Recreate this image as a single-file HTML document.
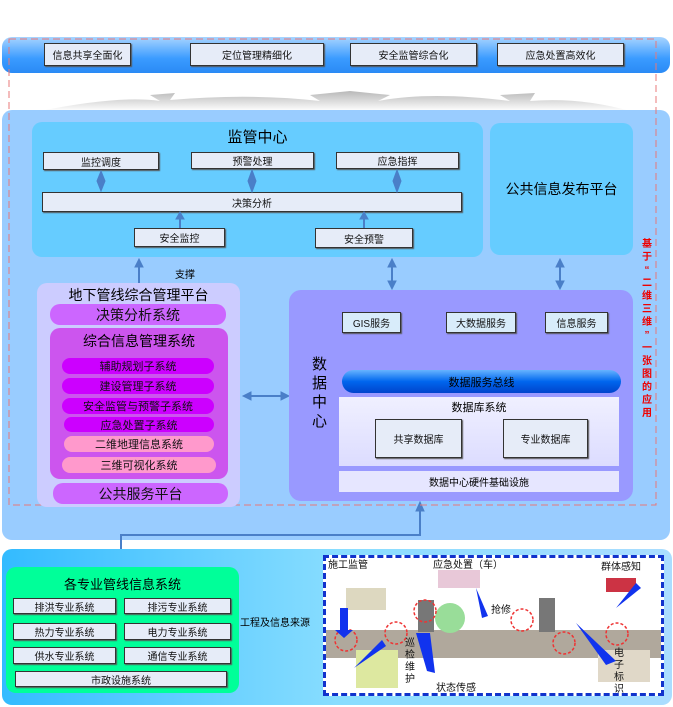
<!DOCTYPE html>
<html><head><meta charset="utf-8"><style>
*{margin:0;padding:0;box-sizing:border-box}
body{width:673px;height:707px;background:#fff;position:relative;overflow:hidden;font-family:"Liberation Sans","Noto Sans CJK SC",sans-serif}
.a{position:absolute}
.bx{position:absolute;background:#e6ecf8;border:1px solid #333;box-shadow:1px 1px 1px #555;font-size:10px;display:flex;align-items:center;justify-content:center;color:#111}
.pill{position:absolute;border-radius:9px;display:flex;align-items:center;justify-content:center;color:#111}
.c{display:flex;align-items:center;justify-content:center}
</style></head><body>
<!-- top bar -->
<div class="a" style="left:2px;top:37px;width:668px;height:36px;border-radius:10px;background:linear-gradient(#a8d4ff,#3a9bff 60%,#2a8af5)"></div>
<div class="bx" style="left:44px;top:43px;width:87px;height:23px">信息共享全面化</div>
<div class="bx" style="left:190px;top:43px;width:134px;height:23px">定位管理精细化</div>
<div class="bx" style="left:350px;top:43px;width:127px;height:23px">安全监管综合化</div>
<div class="bx" style="left:497px;top:43px;width:127px;height:23px">应急处置高效化</div>
<svg class="a" style="left:0;top:73px" width="673" height="40">
<defs><linearGradient id="g" x1="0" y1="0" x2="0" y2="1"><stop offset="0" stop-color="#b8b8b8"/><stop offset="1" stop-color="#fff"/></linearGradient></defs>
<path d="M40 38 Q120 22 160 28 L150 22 L175 20 L170 27 Q250 20 320 28 L310 22 L350 18 L390 22 L378 28 Q430 18 510 28 L500 22 L535 20 L530 28 Q580 24 630 38 Z" fill="url(#g)"/>
</svg>
<!-- main panel -->
<div class="a" style="left:2px;top:110px;width:668px;height:430px;border-radius:10px;background:#99ccff"></div>
<div class="a" style="left:32px;top:122px;width:451px;height:135px;border-radius:10px;background:#66ccff"></div>
<div class="a" style="left:32px;top:126px;width:451px;text-align:center;font-size:15px">监管中心</div>
<div class="bx" style="left:43px;top:152px;width:116px;height:18px">监控调度</div>
<div class="bx" style="left:191px;top:152px;width:123px;height:17px">预警处理</div>
<div class="bx" style="left:336px;top:152px;width:123px;height:17px">应急指挥</div>
<div class="bx" style="left:42px;top:192px;width:420px;height:20px">决策分析</div>
<div class="bx" style="left:134px;top:228px;width:91px;height:19px">安全监控</div>
<div class="bx" style="left:315px;top:228px;width:98px;height:20px">安全预警</div>
<div class="a c" style="left:490px;top:123px;width:143px;height:132px;border-radius:10px;background:#66ccff;font-size:14px">公共信息发布平台</div>
<svg class="a" style="left:0;top:0" width="673" height="707">
<g fill="#4a7fc8" stroke="#4a7fc8">
<path d="M101 171 l-4 10 4 10 4-10z"/><path d="M252 170 l-4 11 4 11 4-11z"/><path d="M397 170 l-4 11 4 11 4-11z"/>
<line x1="180" y1="228" x2="180" y2="218" stroke-width="2"/><path d="M176 219 l4-7 4 7z"/>
<line x1="364" y1="228" x2="364" y2="218" stroke-width="2"/><path d="M360 219 l4-7 4 7z"/>
<line x1="139" y1="290" x2="139" y2="266" stroke-width="2"/><path d="M135 267 l4-8 4 8z"/>
<line x1="392" y1="266" x2="392" y2="282" stroke-width="2"/><path d="M388 267 l4-8 4 8z"/><path d="M388 281 l4 8 4-8z"/>
<line x1="560" y1="266" x2="560" y2="282" stroke-width="2"/><path d="M556 267 l4-8 4 8z"/><path d="M556 281 l4 8 4-8z"/>
<line x1="250" y1="396" x2="282" y2="396" stroke-width="2"/><path d="M251 392 l-8 4 8 4z"/><path d="M281 392 l8 4-8 4z"/>
<line x1="371" y1="370" x2="371" y2="342" stroke-width="2"/><path d="M367 343 l4-9 4 9z"/>
<line x1="481" y1="370" x2="481" y2="342" stroke-width="2"/><path d="M477 343 l4-9 4 9z"/>
<line x1="577" y1="370" x2="577" y2="342" stroke-width="2"/><path d="M573 343 l4-9 4 9z"/>
<polyline points="121,567 121,535 420,535 420,510" fill="none" stroke-width="2"/><path d="M416 511 l4-9 4 9z"/>
<line x1="323" y1="631" x2="240" y2="631" stroke-width="2"/><path d="M241 627 l-8 4 8 4z"/>
</g>
<rect x="9" y="39" width="647" height="466" fill="none" stroke="#e87878" stroke-dasharray="7,4"/>
</svg>
<div class="a" style="left:175px;top:266px;font-size:10px">支撑</div>
<div class="a" style="left:641px;top:238px;width:12px;font-size:10px;line-height:13px;color:#e00;font-weight:bold;text-align:center;background:#99ccff">基<br>于<br>“<br>二<br>维<br>三<br>维<br>”<br>一<br>张<br>图<br>的<br>应<br>用</div>
<!-- underground platform -->
<div class="a" style="left:37px;top:283px;width:203px;height:224px;border-radius:10px;background:#ccccff"></div>
<div class="a" style="left:37px;top:285px;width:203px;text-align:center;font-size:14px">地下管线综合管理平台</div>
<div class="pill" style="left:50px;top:304px;width:176px;height:21px;background:#cc66ff;font-size:14px;border-radius:10px">决策分析系统</div>
<div class="a" style="left:50px;top:328px;width:178px;height:151px;border-radius:10px;background:#cc55ee"></div>
<div class="a" style="left:50px;top:331px;width:178px;text-align:center;font-size:14px">综合信息管理系统</div>
<div class="pill" style="left:62px;top:358px;width:152px;height:16px;background:#cc00ff;font-size:11px">辅助规划子系统</div>
<div class="pill" style="left:62px;top:378px;width:152px;height:16px;background:#cc00ff;font-size:11px">建设管理子系统</div>
<div class="pill" style="left:62px;top:398px;width:152px;height:16px;background:#cc00ff;font-size:11px">安全监管与预警子系统</div>
<div class="pill" style="left:64px;top:417px;width:150px;height:15px;background:#cc00ff;font-size:11px">应急处置子系统</div>
<div class="pill" style="left:64px;top:436px;width:150px;height:16px;background:#ff99cc;font-size:11px">二维地理信息系统</div>
<div class="pill" style="left:62px;top:457px;width:154px;height:16px;background:#ff99cc;font-size:11px">三维可视化系统</div>
<div class="pill" style="left:53px;top:483px;width:175px;height:21px;background:#cc66ff;font-size:14px;border-radius:10px">公共服务平台</div>
<!-- data center -->
<div class="a" style="left:289px;top:290px;width:344px;height:211px;border-radius:12px;background:#9999ff"></div>
<div class="a" style="left:312px;top:355px;width:16px;font-size:15px;line-height:19px">数据中心</div>
<div class="bx" style="left:342px;top:312px;width:59px;height:21px;background:#d8ecfa">GIS服务</div>
<div class="bx" style="left:446px;top:312px;width:70px;height:21px;background:#d8ecfa">大数据服务</div>
<div class="bx" style="left:545px;top:312px;width:63px;height:21px;background:#d8ecfa">信息服务</div>
<div class="a c" style="left:342px;top:370px;width:279px;height:23px;border-radius:12px;background:linear-gradient(#66b3ff,#0066ee 50%,#0044cc);font-size:11px">数据服务总线</div>
<div class="a" style="left:339px;top:397px;width:280px;height:69px;background:linear-gradient(#f0f0ff,#dcdcff)"></div>
<div class="a" style="left:339px;top:399px;width:280px;text-align:center;font-size:11px">数据库系统</div>
<div class="bx" style="left:375px;top:419px;width:87px;height:39px">共享数据库</div>
<div class="bx" style="left:503px;top:419px;width:85px;height:39px">专业数据库</div>
<div class="a c" style="left:339px;top:471px;width:280px;height:21px;background:#e6e6ff;font-size:10px">数据中心硬件基础设施</div>
<!-- bottom -->
<div class="a" style="left:2px;top:549px;width:670px;height:156px;border-radius:10px;background:linear-gradient(90deg,#33bbff,#88ddff 50%,#aaddff)"></div>
<div class="a" style="left:6px;top:567px;width:233px;height:126px;border-radius:10px;background:#00ff99"></div>
<div class="a" style="left:6px;top:574px;width:233px;text-align:center;font-size:13px">各专业管线信息系统</div>
<div class="bx" style="left:13px;top:598px;width:103px;height:16px">排洪专业系统</div>
<div class="bx" style="left:124px;top:598px;width:107px;height:16px">排污专业系统</div>
<div class="bx" style="left:13px;top:623px;width:103px;height:17px">热力专业系统</div>
<div class="bx" style="left:124px;top:623px;width:107px;height:17px">电力专业系统</div>
<div class="bx" style="left:13px;top:647px;width:103px;height:17px">供水专业系统</div>
<div class="bx" style="left:124px;top:647px;width:107px;height:17px">通信专业系统</div>
<div class="bx" style="left:15px;top:671px;width:212px;height:16px">市政设施系统</div>
<div class="a" style="left:240px;top:614px;font-size:10px">工程及信息来源</div>
<div class="a" style="left:323px;top:555px;width:341px;height:141px;background:#fff;border:3px dashed #1133cc"></div>
<svg class="a" style="left:326px;top:558px" width="335" height="135">
<rect x="0" y="72" width="335" height="28" fill="#b0a89c"/>
<rect x="92" y="42" width="16" height="32" fill="#777"/><rect x="213" y="40" width="16" height="34" fill="#777"/>
<circle cx="124" cy="60" r="15" fill="#99dd99"/>
<rect x="20" y="30" width="40" height="22" fill="#ddd8c0"/>
<rect x="112" y="12" width="42" height="18" fill="#e8c8d8"/>
<rect x="30" y="92" width="42" height="38" fill="#dde8a0"/><rect x="272" y="92" width="52" height="32" fill="#e0d8c8"/>
<rect x="280" y="20" width="30" height="14" fill="#cc3344"/>
<g fill="none" stroke="#e33" stroke-dasharray="3,2" stroke-width="1.5">
<circle cx="20" cy="82" r="11"/><circle cx="70" cy="75" r="11"/><circle cx="99" cy="53" r="11"/><circle cx="196" cy="62" r="11"/><circle cx="238" cy="85" r="11"/><circle cx="291" cy="76" r="11"/>
</g>
<g fill="#1133ee"><path d="M14 50 l8 0 0 22 5 0-9 8-9-8 5 0z"/><path d="M90 75 l14 0 5 40-8-2z"/><path d="M150 30 l12 28-6 2z"/><path d="M250 65 l40 38-10 4z"/><path d="M290 50 l20-25 5 5z"/><path d="M28 110 l28-28 4 6z"/></g>
<g font-size="10" fill="#111"><text x="2" y="10">施工监管</text><text x="107" y="10">应急处置（车）</text><text x="165" y="55">抢修</text><text x="275" y="12">群体感知</text><text x="110" y="133">状态传感</text></g>
<g font-size="10" fill="#111"><text x="79" y="88">巡</text><text x="79" y="100">检</text><text x="79" y="112">维</text><text x="79" y="124">护</text><text x="288" y="98">电</text><text x="288" y="110">子</text><text x="288" y="122">标</text><text x="288" y="134">识</text></g>
</svg>
</body></html>
